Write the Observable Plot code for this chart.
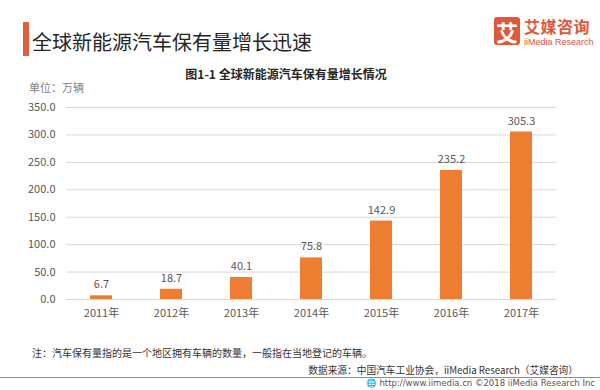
<!DOCTYPE html>
<html>
<head>
<meta charset="utf-8">
<script src="https://cdn.jsdelivr.net/npm/d3@7"></script>
<script src="https://cdn.jsdelivr.net/npm/@observablehq/plot@0.6"></script>
<style>
  html, body { margin: 0; padding: 0; background: #fff; }
  #wrap { position: relative; width: 600px; height: 390px; overflow: hidden; background: #fff;
          font-family: "Noto Sans CJK SC", "Noto Sans", sans-serif; }
  .abs { position: absolute; white-space: nowrap; line-height: 1; }
  #chart { position: absolute; left: 0; top: 0; }
</style>
</head>
<body>
<div id="wrap">
  <div id="chart"></div>
  <div class="abs" style="left:23px;top:22px;width:6px;height:34px;background:#e4603a;"></div>
  <div class="abs" id="title" style="left:32px;top:32px;font-size:20px;color:#262626;"></div>
  <div class="abs" style="left:494px;top:17px;width:26px;height:28px;background:#e0573c;border-radius:3px;color:#fff;font-size:22px;font-weight:bold;text-align:center;line-height:28px;">艾</div>
  <div class="abs" id="brand" style="left:524px;top:18px;font-size:16px;color:#e0573c;font-weight:bold;letter-spacing:0.5px;"></div>
  <div class="abs" id="brandEn" style="left:524px;top:38px;font-size:9px;color:#e0573c;font-family:'Liberation Sans',sans-serif;"></div>
  <div class="abs" id="subtitle" style="left:0;width:572px;top:68px;text-align:center;font-size:12px;font-weight:bold;color:#262626;"></div>
  <div class="abs" id="unit" style="left:29px;top:82px;font-size:11px;color:#7f7f7f;"></div>
  <div class="abs" id="note" style="left:32px;top:348px;font-size:10px;color:#333;"></div>
  <div class="abs" id="source" style="right:22px;top:366px;font-size:9.7px;color:#333;"></div>
  <div class="abs" style="left:0;top:377px;width:600px;height:1px;background:#8c8c8c;"></div>
  <div class="abs" id="url" style="right:5px;top:379px;font-size:8.5px;color:#555;font-family:'DejaVu Sans',sans-serif;"></div>
</div>
<script>
const years = ["2011年", "2012年", "2013年", "2014年", "2015年", "2016年", "2017年"];
const values = [6.7, 18.7, 40.1, 75.8, 142.9, 235.2, 305.3];
const yTicks = [0, 50, 100, 150, 200, 250, 300, 350];

const titleText = "全球新能源汽车保有量增长迅速";
const subtitleText = "图1-1 全球新能源汽车保有量增长情况";
const unitText = "单位：万辆";
const noteText = "注：汽车保有量指的是一个地区拥有车辆的数量，一般指在当地登记的车辆。";
const sourceText = "数据来源：中国汽车工业协会，iiMedia Research（艾媒咨询）";
const brandText = "艾媒咨询";
const brandEnText = "iiMedia Research";
const urlText = "🌐 http://www.iimedia.cn    ©2018  iiMedia Research Inc";

document.getElementById("title").textContent = titleText;
document.getElementById("subtitle").textContent = subtitleText;
document.getElementById("unit").textContent = unitText;
document.getElementById("note").textContent = noteText;
document.getElementById("source").textContent = sourceText;
document.getElementById("brand").textContent = brandText;
document.getElementById("brandEn").textContent = brandEnText;
document.getElementById("url").textContent = urlText;

const data = years.map((year, i) => ({year, value: values[i]}));

const chart = Plot.plot({
  width: 600,
  height: 390,
  marginTop: 107,
  marginBottom: 91,
  marginLeft: 66,
  marginRight: 44,
  style: {fontFamily: '"Noto Sans CJK SC", "Noto Sans", sans-serif', fontSize: "11px", color: "#595959", background: "transparent"},
  x: {domain: years, paddingInner: 0.69, paddingOuter: 0.345, label: null},
  y: {domain: [0, 350], label: null},
  marks: [
    Plot.gridY(yTicks, {stroke: "#d9d9d9", strokeOpacity: 1}),
    Plot.barY(data, {x: "year", y: "value", fill: "#ED7D31"}),
    Plot.text(data, {x: "year", y: "value", text: d => d.value.toFixed(1), dy: -11, fill: "#595959", fontSize: 11}),
    Plot.axisY({ticks: yTicks, tickFormat: d => d.toFixed(1), tickSize: 0, tickPadding: 11, label: null, fill: "#595959"}),
    Plot.axisX({tickSize: 0, tickPadding: 10, label: null, fill: "#595959"})
  ]
});
document.getElementById("chart").appendChild(chart);
</script>
</body>
</html>
